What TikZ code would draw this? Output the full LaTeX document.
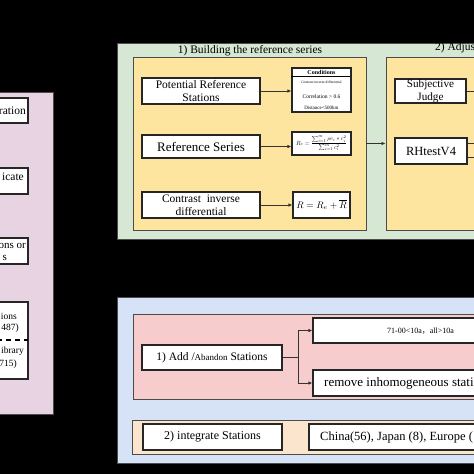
\documentclass[tikz,border=0pt]{standalone}
\usepackage{fontspec}
\setmainfont{Liberation Serif}
\newfontfamily\cjk{Noto Sans CJK SC}
\usetikzlibrary{arrows.meta}
\definecolor{greenL}{RGB}{214,232,212}
\definecolor{orangeL}{RGB}{253,229,160}
\definecolor{pinkL}{RGB}{231,211,226}
\definecolor{blueL}{RGB}{214,226,245}
\definecolor{pinkR}{RGB}{247,204,204}
\definecolor{peachL}{RGB}{252,229,205}
\newcommand{\fsz}[1]{\fontsize{#1}{#1}\selectfont}
\begin{document}
\begin{tikzpicture}[x=1pt,y=-1pt,
  panel/.style={draw=black!70,line width=0.9pt,inner sep=0pt},
  wbox/.style={draw=black!85,fill=white,line width=1.1pt,inner sep=0pt,align=center},
  txt/.style={inner sep=0pt,align=center},
  arr/.style={-{Latex[length=4pt,width=3.5pt]},line width=0.8pt,draw=black!80},
  ln/.style={line width=0.8pt,draw=black!80}]
\fill[black] (0,0) rectangle (474,474);
\useasboundingbox (0,0) rectangle (474,474);
\clip (0,0) rectangle (474,474);

% ---------- left panel ----------
\node[panel,fill=pinkL,minimum width=63pt,minimum height=322pt] (lp) at (21.5,253) {};
\node[wbox,minimum width=40pt,minimum height=25pt] (lb1) at (8,110.5) {};
\node[txt,anchor=east] (lt1) at (26,111) {\fsz{11.5}ration};
\node[wbox,minimum width=40pt,minimum height=26pt] (lb2) at (8,181) {};
\node[txt,anchor=east] (lt2) at (24,177) {\fsz{11.5}icate};
\node[wbox,minimum width=40pt,minimum height=26pt] (lb3) at (8,251) {};
\node[txt,anchor=east] (lt3a) at (26,246) {\fsz{11}ons or};
\node[txt,anchor=east] (lt3b) at (7,258) {\fsz{11}s};
\node[wbox,minimum width=40pt,minimum height=77pt] (lb4) at (8,340.5) {};
\node[txt,anchor=east] (lt4a) at (17,316) {\fsz{9.5}ions};
\node[txt,anchor=east] (lt4b) at (19,328) {\fsz{9.5}487)};
\node[txt,anchor=east] (lt4c) at (24,351) {\fsz{9.5}ibrary};
\node[txt,anchor=east] (lt4d) at (17,364) {\fsz{9.5}715)};
\coordinate (dl) at (-12,340);
\coordinate (dr) at (28,340);
\draw[line width=1.6pt,dash pattern=on 5pt off 4pt] (dl) -- (dr);

% ---------- top panel ----------
\node[panel,fill=greenL,minimum width=365pt,minimum height=196pt] (gp) at (299.5,141) {};
\node[txt] (t1) at (250,51) {\fsz{11.5}1) Building the reference series};
\node[txt,anchor=west] (t2) at (435,48) {\fsz{11.5}2) Adjustment};
\node[panel,fill=orangeL,minimum width=233pt,minimum height=173pt] (o1) at (249.5,143.5) {};
\node[panel,fill=orangeL,minimum width=96pt,minimum height=173pt] (o2) at (434,143.5) {};
\draw[arr] (o1.east) -- (o2.west);

\node[wbox,minimum width=118pt,minimum height=26pt] (pr) at (201,91)
  {\fsz{11.5}Potential Reference\\[1pt]\fsz{11.5}Stations};
\node[wbox,minimum width=59pt,minimum height=44pt] (cond) at (321.5,90) {};
\node[txt] (ch) at (321.5,72.5) {\fsz{6}\bfseries Conditions};
\draw[line width=0.7pt] (cond.north west) ++(0,9) -- ++(59,0);
\node[txt] (c1) at (321.5,82) {\fsz{3.6}Contrast inverse differential};
\node[txt] (c2) at (321.5,96.5) {\fsz{5.5}Correlation > 0.6};
\node[txt] (c3) at (321.5,108) {\fsz{5}Distance<500km};

\node[wbox,minimum width=118pt,minimum height=23pt] (rs) at (201,146.5)
  {\fsz{13}Reference Series};
\node[wbox,minimum width=59pt,minimum height=23pt] (fm) at (321.5,143.5)
  {\scalebox{0.6}{$\displaystyle R_e=\frac{\sum\nolimits_{i=1}^{m}\rho e_i * c_i^2}{\sum\nolimits_{i=1}^{m}c_i^2}$}};

\node[wbox,minimum width=118pt,minimum height=26pt] (ci) at (201,205)
  {\fsz{11.5}Contrast\ \ inverse\\[1pt]\fsz{11.5}differential};
\node[wbox,minimum width=57pt,minimum height=26pt] (rr) at (321.5,205)
  {\scalebox{0.95}{$R = R_e + \overline{R}$}};

\draw[arr] (pr.east) -- (pr.east -| cond.west);
\draw[arr] (rs.east) -- (rs.east -| fm.west);
\draw[arr] (ci.east) -- (rr.west);

\node[wbox,minimum width=71pt,minimum height=24pt] (sj) at (430.5,91)
  {\fsz{11.2}Subjective\\[1pt]\fsz{11.2}Judge};
\node[wbox,minimum width=72pt,minimum height=26pt] (rh) at (431,151)
  {\fsz{12.5}RHtestV4};
\coordinate (sjo) at (480,91);
\coordinate (rho1) at (480,143);
\coordinate (rho2) at (480,157);
\draw[ln] (sj.east) -- (sjo);
\draw[ln] (rh.east |- rho1) -- (rho1);
\draw[ln] (rh.east |- rho2) -- (rho2);

% ---------- bottom panel ----------
\node[panel,fill=blueL,minimum width=365pt,minimum height=166pt] (bp) at (299.5,380) {};
\node[panel,fill=pinkR,minimum width=349pt,minimum height=85pt] (pi) at (307.5,356.5) {};
\node[panel,fill=peachL,minimum width=350pt,minimum height=34pt] (pe) at (307,437) {};

\node[wbox,minimum width=140pt,minimum height=25pt] (add) at (212,357.5)
  {\fsz{11.5}1) Add /{\fsz{9}Abandon} Stations};
\node[wbox,minimum width=167pt,minimum height=25pt] (tb) at (396.5,330.5) {};
\node[txt,anchor=west] (tbt) at (387,331) {\fsz{8}71-00<10a{\cjk，}all>10a};
\node[wbox,minimum width=167pt,minimum height=26pt] (bb) at (396.5,383) {};
\node[txt,anchor=west] (bbt) at (324,383) {\fsz{13}remove inhomogeneous stations};
\coordinate (br) at (298,357.5);
\draw[ln] (add.east) -- (br);
\draw[arr] (br) |- (tb.west);
\draw[arr] (br) |- (bb.west);

\node[wbox,minimum width=139pt,minimum height=26pt] (ig) at (212.5,437)
  {\fsz{12}2) integrate Stations};
\node[wbox,minimum width=171pt,minimum height=26pt] (cn) at (394.5,437) {};
\node[txt,anchor=west] (cnt) at (320,437.5) {\fsz{12.5}China(56), Japan (8), Europe (};
\end{tikzpicture}
\end{document}
